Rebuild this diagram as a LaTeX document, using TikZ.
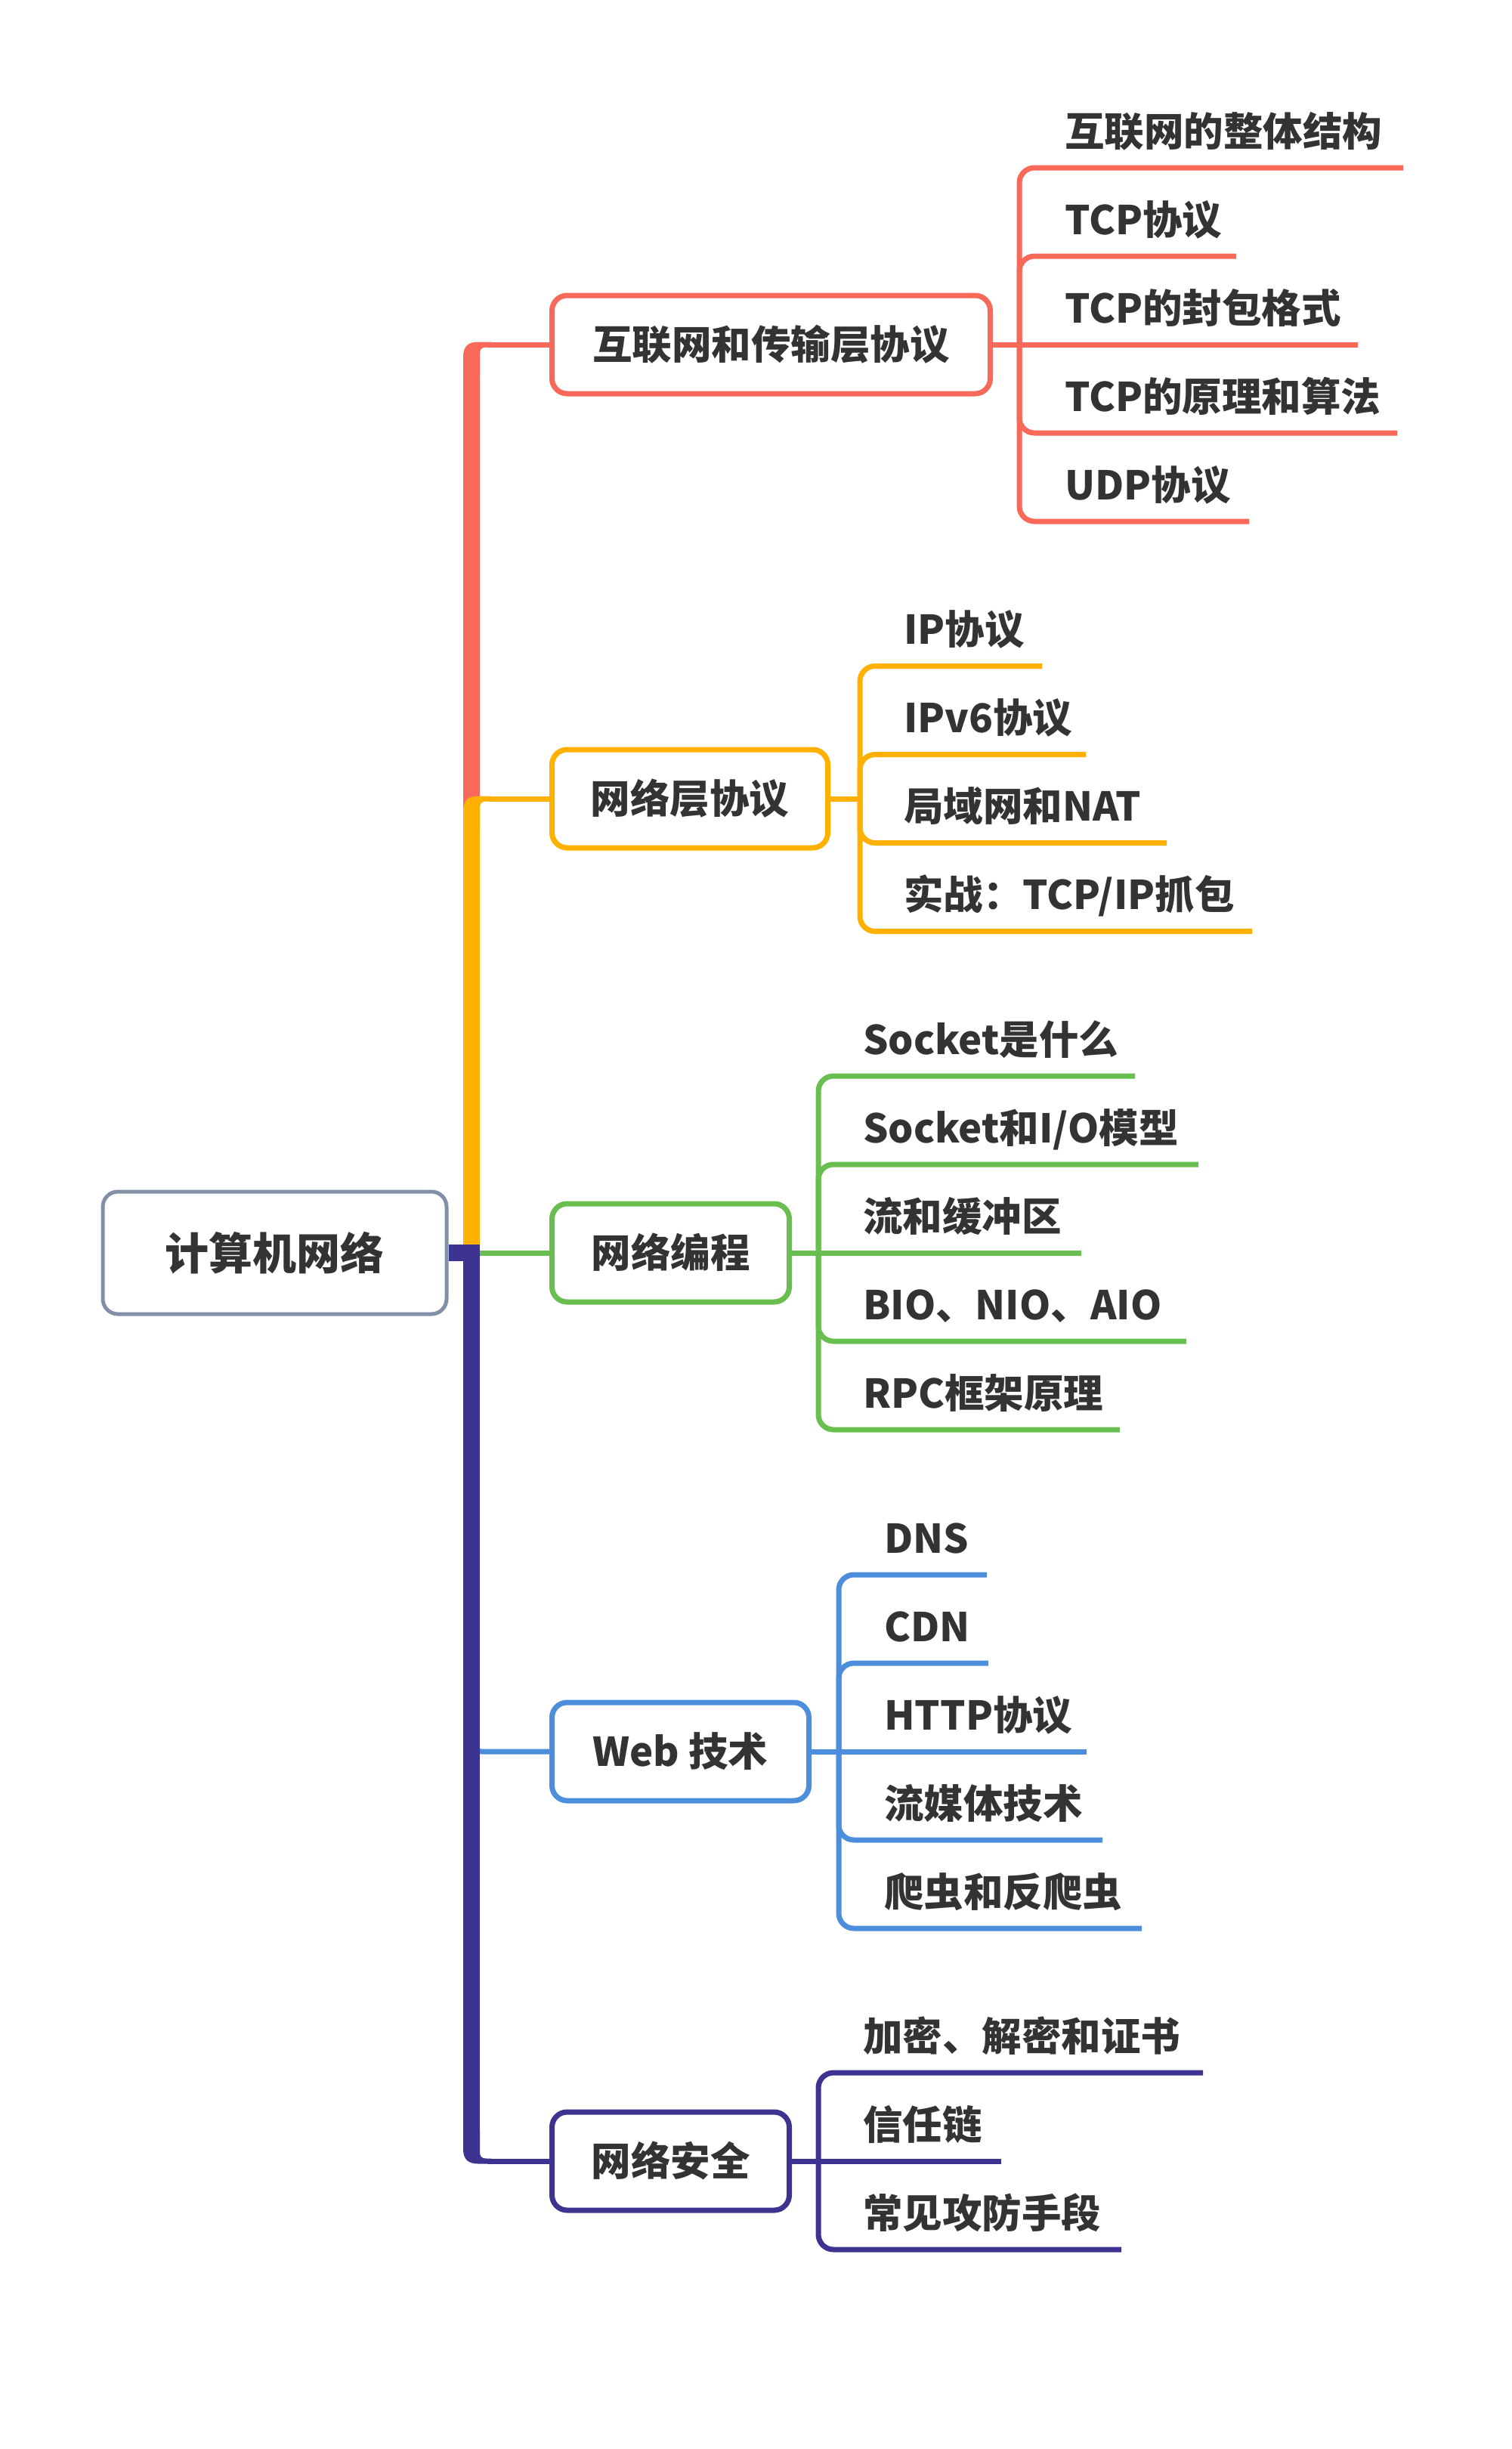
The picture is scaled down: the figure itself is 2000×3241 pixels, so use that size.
\documentclass[tikz,border=0pt]{standalone}
\usepackage{fontspec}
\setmainfont{Noto Sans CJK SC}
\definecolor{cred}{HTML}{F9695A}
\definecolor{corange}{HTML}{FFB000}
\definecolor{cgreen}{HTML}{68BE4E}
\definecolor{cblue}{HTML}{4D8EDC}
\definecolor{cpurple}{HTML}{3D3391}
\definecolor{croot}{HTML}{8190A6}
\definecolor{ctext}{HTML}{333333}
\begin{document}
\begin{tikzpicture}[x=1pt,y=-1pt,
  txt/.style={font=\bfseries\fontsize{52.5}{60}\selectfont, text=ctext},
  box/.style={txt, draw=#1, line width=7pt, rounded corners=20pt, fill=white,
    minimum height=130pt, inner sep=0pt, text height=46.2pt, text depth=6.3pt},
  rootbox/.style={draw=croot, line width=5pt, rounded corners=20pt, fill=white,
    font=\bfseries\fontsize{58}{66}\selectfont, text=ctext,
    minimum width=455pt, minimum height=162pt, inner sep=0pt, text height=51pt, text depth=7pt},
  leaf/.style={txt, anchor=base west, inner sep=0pt},
  thinline/.style={draw=#1, line width=7pt},
  leafline/.style={draw=#1, line width=7pt, rounded corners=20pt},
  trunkline/.style={draw=#1, line width=22pt},
  pics/topcorner/.style={code={
    \fill[#1] (613,40) -- (613,16) .. controls (613,2) and (620,-3.5) .. (633,-3.5)
      -- (650,-3.5) -- (650,3.5) -- (644,3.5) .. controls (637,3.5) and (635,6) .. (635,13)
      -- (635,40) -- cycle;}},
  pics/botcorner/.style={code={
    \fill[#1] (613,-40) -- (613,-16) .. controls (613,-2) and (620,3.5) .. (633,3.5)
      -- (650,3.5) -- (650,-3.5) -- (644,-3.5) .. controls (637,-3.5) and (635,-6) .. (635,-13)
      -- (635,-40) -- cycle;}}]
\useasboundingbox (0,0) rectangle (2000,3241);

% ---- trunk (drawn first) ----
\draw[trunkline=cred] (624,1658) -- (624,486);
\pic at (0,456) {topcorner=cred};
\draw[thinline=cred] (645,456) -- (730,456);
\draw[trunkline=corange] (624,1647) -- (624,1087);
\pic at (0,1057) {topcorner=corange};
\draw[thinline=corange] (645,1057) -- (730,1057);
\draw[thinline=cblue, rounded corners=14pt] (624,2200) -- (624,2318) -- (730,2318);
\draw[trunkline=cpurple] (624,1647) -- (624,2830);
\pic at (0,2860) {botcorner=cpurple};
\draw[thinline=cpurple] (645,2860) -- (730,2860);
\draw[trunkline=cpurple] (594,1658) -- (635,1658);
\draw[thinline=cgreen] (635,1658) -- (730,1658);

% ---- root and main boxes ----
\node[rootbox] (root) at (363.5,1658) {计算机网络};
\node[box=cred, minimum width=580pt] (b1) at (1020.5,456) {互联网和传输层协议};
\node[box=corange, minimum width=365pt] (b2) at (913,1057) {网络层协议};
\node[box=cgreen, minimum width=314pt] (b3) at (887.5,1658) {网络编程};
\node[box=cblue, minimum width=340pt] (b4) at (900.5,2318) {Web 技术};
\node[box=cpurple, minimum width=314pt] (b5) at (887.5,2860) {网络安全};

% ---- branch 1 ----
\coordinate (j1) at (1349,456);
\draw[thinline=cred] (b1.east) -- (j1);
\foreach \y/\e/\t [count=\i] in {222/1857/{互联网的整体结构}, 339/1636/{TCP协议}, 573/1849/{TCP的原理和算法}, 690/1653/{UDP协议}}{
  \coordinate (e1\i) at (\e,\y);
  \draw[leafline=cred] (j1) |- (e1\i);
  \node[leaf] (l1\i) at (1409,\y-29) {\t};
}
\coordinate (e1m) at (1797,456);
\draw[thinline=cred] (j1) -- (e1m);
\node[leaf] (l1m) at (1409,456-29) {TCP的封包格式};

% ---- branch 2 ----
\coordinate (j2) at (1138,1057);
\draw[thinline=corange] (b2.east) -- (j2);
\foreach \y/\e/\t [count=\i] in {881.5/1379/{IP协议}, 998.5/1437/{IPv6协议}, 1115.5/1544/{局域网和NAT}, 1232.5/1657/{实战：TCP/IP抓包}}{
  \coordinate (e2\i) at (\e,\y);
  \draw[leafline=corange] (j2) |- (e2\i);
  \node[leaf] (l2\i) at (1196,\y-29) {\t};
}

% ---- branch 3 ----
\coordinate (j3) at (1083,1658);
\draw[thinline=cgreen] (b3.east) -- (j3);
\foreach \y/\e/\t [count=\i] in {1424/1502/{Socket是什么}, 1541/1586/{Socket和I/O模型}, 1775/1570/{BIO、NIO、AIO}, 1892/1482/{RPC框架原理}}{
  \coordinate (e3\i) at (\e,\y);
  \draw[leafline=cgreen] (j3) |- (e3\i);
  \node[leaf] (l3\i) at (1142,\y-29) {\t};
}
\coordinate (e3m) at (1431,1658);
\draw[thinline=cgreen] (j3) -- (e3m);
\node[leaf] (l3m) at (1142,1658-29) {流和缓冲区};

% ---- branch 4 ----
\coordinate (j4) at (1110,2318);
\draw[thinline=cblue] (b4.east) -- (j4);
\foreach \y/\e/\t [count=\i] in {2084/1306/{DNS}, 2201/1308/{CDN}, 2435/1459/{流媒体技术}, 2552/1511/{爬虫和反爬虫}}{
  \coordinate (e4\i) at (\e,\y);
  \draw[leafline=cblue] (j4) |- (e4\i);
  \node[leaf] (l4\i) at (1170,\y-29) {\t};
}
\coordinate (e4m) at (1438,2318);
\draw[thinline=cblue] (j4) -- (e4m);
\node[leaf] (l4m) at (1170,2318-29) {HTTP协议};

% ---- branch 5 ----
\coordinate (j5) at (1083,2860);
\draw[thinline=cpurple] (b5.east) -- (j5);
\foreach \y/\e/\t [count=\i] in {2743/1592/{加密、解密和证书}, 2977/1484/{常见攻防手段}}{
  \coordinate (e5\i) at (\e,\y);
  \draw[leafline=cpurple] (j5) |- (e5\i);
  \node[leaf] (l5\i) at (1142,\y-29) {\t};
}
\coordinate (e5m) at (1325,2860);
\draw[thinline=cpurple] (j5) -- (e5m);
\node[leaf] (l5m) at (1142,2860-29) {信任链};
\end{tikzpicture}
\end{document}
